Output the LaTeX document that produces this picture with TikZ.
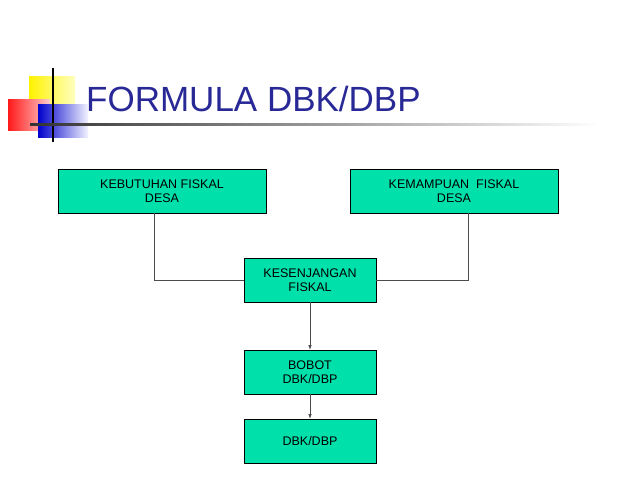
\documentclass[tikz,border=0pt]{standalone}
\usepackage{fontspec}
\setmainfont{Liberation Sans}
\begin{document}
\begin{tikzpicture}[x=1pt,y=-1pt,
  bx/.style={draw=black,fill=green1,line width=0.5pt,minimum width=132pt,minimum height=44pt,align=center,font=\fontsize{12.5}{14}\selectfont,inner sep=1pt},
  conn/.style={draw=black!70,line width=0.6pt},
  arr/.style={conn,-latex}]
\definecolor{green1}{RGB}{0,224,170}
\definecolor{tblue}{RGB}{40,40,150}
\useasboundingbox (0,0) rectangle (638,478);
\fill[white] (0,0) rectangle (638,478);
% decoration
\shade[left color=yellow!90!orange, right color=yellow!25] (29,77) rectangle (75,122);
\shade[left color=red!90, right color=red!20] (8,100) rectangle (50,131);
\shade[left color=blue!80!black, right color=blue!5] (38,105) rectangle (88,138);
\draw[black,line width=1.5pt] (53,68) -- (53,142);
\shade[left color=black!80, right color=white] (30,123.5) rectangle (600,126);
\node[anchor=west,text=tblue,font=\fontsize{35}{40}\selectfont,inner sep=0] (title) at (86,99) {FORMULA DBK/DBP};
% boxes
\node[bx,minimum width=208pt] (keb) at (162,191) {KEBUTUHAN FISKAL\\DESA};
\node[bx,minimum width=208pt] (kem) at (454,191) {KEMAMPUAN\ \ FISKAL\\DESA};
\node[bx] (kes) at (310,280) {KESENJANGAN\\FISKAL};
\node[bx] (bob) at (310,372) {BOBOT\\DBK/DBP};
\node[bx] (dbk) at (310,441) {DBK/DBP};
\draw[conn] (keb.south -| 154,0) |- (kes.west);
\draw[conn] (kem.south -| 468,0) |- (kes.east);
\draw[arr] (kes) -- (bob);
\draw[arr] (bob) -- (dbk);
\end{tikzpicture}
\end{document}
